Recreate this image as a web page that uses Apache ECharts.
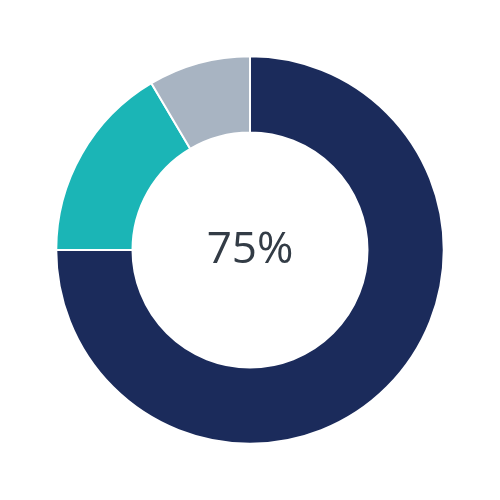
<!DOCTYPE html><html><head><script src="https://cdn.jsdelivr.net/npm/echarts@6/dist/echarts.min.js"></script></head><body style="margin:0"><div id="c" style="width:500px;height:500px"></div><script>
const categories=['A','B','C'];
const values=[75,16.5,8.5];
const colors=['#1b2b5b','#1bb5b6','#a8b4c2'];
const chart=echarts.init(document.getElementById('c'));
chart.setOption({animation:false,
title:{text:'75%',left:'center',top:'middle',textStyle:{fontFamily:'Open Sans',fontWeight:'normal',fontSize:44,color:'#333c46'}},
series:[{type:'pie',radius:['47%','77.5%'],center:['50%','50%'],startAngle:90,clockwise:true,label:{show:false},
itemStyle:{borderColor:'#fff',borderWidth:2},
data:categories.map((c,i)=>({name:c,value:values[i],itemStyle:{color:colors[i]}}))}]});
</script></body></html>
